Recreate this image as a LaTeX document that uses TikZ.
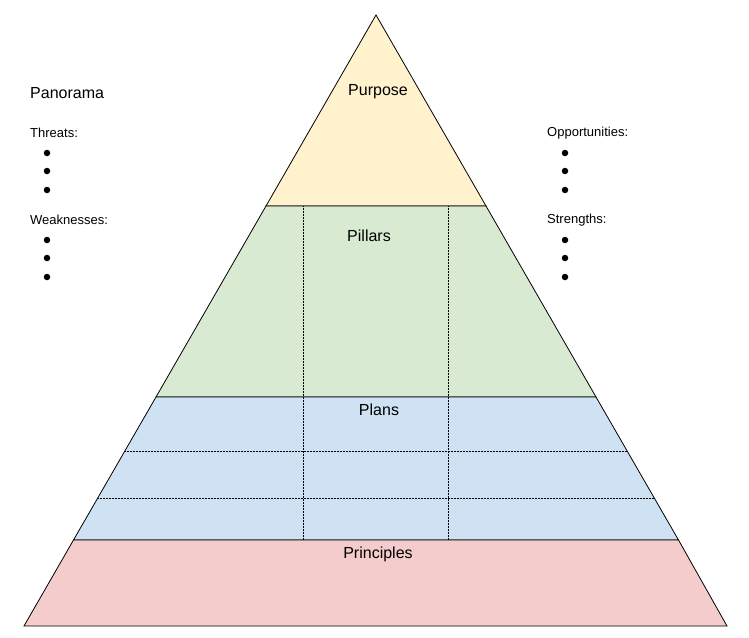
\documentclass[tikz,border=0pt]{standalone}
\usepackage{fontspec}
\setmainfont{Liberation Sans}
\begin{document}
\begin{tikzpicture}[x=1pt,y=-1pt,
  lbl/.style={font=\fontsize{16}{18}\selectfont},
  sm/.style={font=\fontsize{13}{15}\selectfont, anchor=west, inner sep=0},
  dot/.style={circle, fill=black, inner sep=0, minimum size=6.5pt},
  band/.style={draw=black, line width=0.8pt},
  sep/.style={densely dotted, line width=0.5pt}]
\useasboundingbox (0,0) rectangle (749,637);
\fill[white] (0,0) rectangle (749,637);
% bands
\filldraw[band, fill={rgb,255:red,255;green,242;blue,204}] (376,15) -- (486,206) -- (266,206) -- cycle;
\filldraw[band, fill={rgb,255:red,217;green,234;blue,211}] (266,206) -- (486,206) -- (596,397) -- (156,397) -- cycle;
\filldraw[band, fill={rgb,255:red,207;green,226;blue,243}] (156,397) -- (596,397) -- (678.5,540) -- (73.5,540) -- cycle;
\filldraw[band, fill={rgb,255:red,244;green,204;blue,204}] (73.5,540) -- (678.5,540) -- (727,626) -- (24,626) -- cycle;
% dotted separators
\draw[sep] (303,206) -- (303,540);
\draw[sep] (448,206) -- (448,540);
\draw[sep] (125,451) -- (627,451);
\draw[sep] (98,498) -- (654,498);
% labels
\node[lbl] (purpose) at (378,92) {Purpose};
\node[lbl] (pillars) at (369,236) {Pillars};
\node[lbl] (plans) at (379,410) {Plans};
\node[lbl] (principles) at (378,554) {Principles};
\node[sm, font=\fontsize{16}{18}\selectfont] (pan) at (30,93) {Panorama};
\node[sm] (thr) at (30,133) {Threats:};
\node[sm] (weak) at (30,220) {Weaknesses:};
\node[sm] (opp) at (547,133) {Opportunities:};
\node[sm] (str) at (547,220) {Strengths:};
\foreach \x/\n in {47/l,565/r}{
  \foreach \y [count=\i] in {153,171,190}{ \node[dot] (b\n a\i) at (\x,\y) {}; }
  \foreach \y [count=\i] in {240,258,277}{ \node[dot] (b\n b\i) at (\x,\y) {}; }
}
\end{tikzpicture}
\end{document}
